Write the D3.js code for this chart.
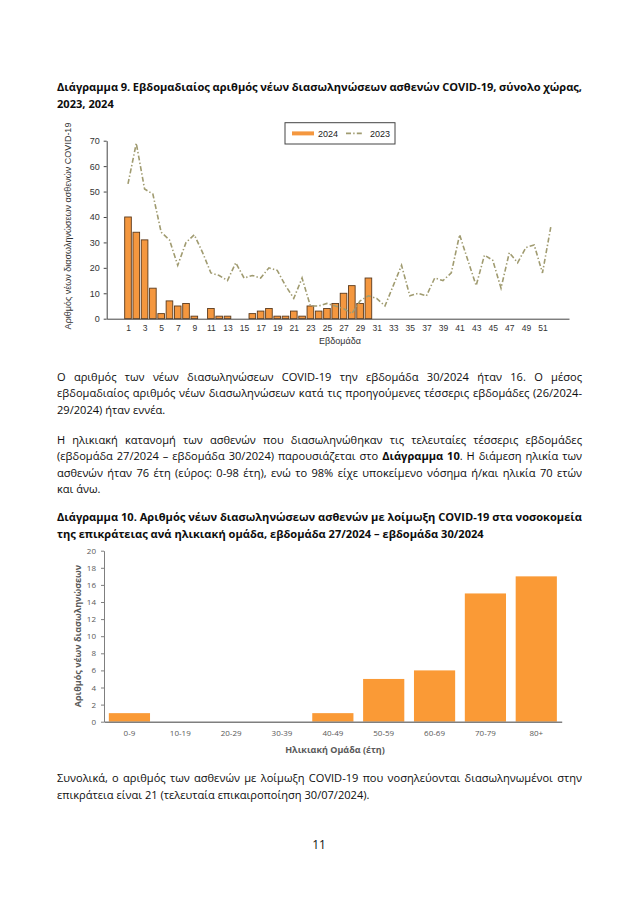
<!DOCTYPE html>
<html>
<head>
<meta charset="utf-8">
<script src="https://cdn.jsdelivr.net/npm/d3@7"></script>
<style>
  body { margin: 0; background: #fff; }
  svg { display: block; }
</style>
</head>
<body>
<svg id="page" width="638" height="902"></svg>
<script>
// ---- chart 9 data: weekly new intubations
const weeks2024 = d3.range(1, 31);
const cases2024 = [40, 34, 31, 12, 2, 7, 5, 6, 1, 0, 4, 1, 1, 0, 0, 2, 3, 4, 1, 1, 3, 1, 5, 3, 4, 6, 10, 13, 6, 16];
const weeks2023 = d3.range(1, 53);
const cases2023 = [53, 69, 51, 49, 34, 31, 21, 30, 33, 26, 18, 17, 15, 22, 16, 17, 16, 20, 19, 13, 8, 16, 5, 5, 6, 5, 4, 2, 7, 9,
                   8, 5, 13, 21, 9, 10, 9, 16, 15, 18, 33, 23, 13, 25, 23, 12, 26, 22, 28, 29, 18, 36];
const weekTicks = d3.range(1, 52, 2);
const yTicks9 = d3.range(0, 71, 10);

// ---- chart 10 data: intubations by age group, weeks 27-30/2024
const ageGroups = ["0-9", "10-19", "20-29", "30-39", "40-49", "50-59", "60-69", "70-79", "80+"];
const ageCounts = [1, 0, 0, 0, 1, 5, 6, 15, 17];
const yTicks10 = d3.range(0, 21, 2);

// ---- page text (** marks bold)
const paragraphs = [
  { y: 91, bold: true, lines: [
    "Διάγραμμα 9. Εβδομαδιαίος αριθμός νέων διασωληνώσεων ασθενών COVID-19, σύνολο χώρας,",
    "2023, 2024"] },
  { y: 380.5, bold: false, lines: [
    "Ο αριθμός των νέων διασωληνώσεων COVID-19 την εβδομάδα 30/2024 ήταν 16. Ο μέσος",
    "εβδομαδιαίος αριθμός νέων διασωληνώσεων κατά τις προηγούμενες τέσσερις εβδομάδες (26/2024-",
    "29/2024) ήταν εννέα."] },
  { y: 443.5, bold: false, lines: [
    "Η ηλικιακή κατανομή των ασθενών που διασωληνώθηκαν τις τελευταίες τέσσερις εβδομάδες",
    "(εβδομάδα 27/2024 – εβδομάδα 30/2024) παρουσιάζεται στο **Διάγραμμα 10**. Η διάμεση ηλικία των",
    "ασθενών ήταν 76 έτη (εύρος: 0-98 έτη), ενώ το 98% είχε υποκείμενο νόσημα ή/και ηλικία 70 ετών",
    "και άνω."] },
  { y: 521, bold: true, lines: [
    "Διάγραμμα 10. Αριθμός νέων διασωληνώσεων ασθενών με λοίμωξη COVID-19 στα νοσοκομεία",
    "της επικράτειας ανά ηλικιακή ομάδα, εβδομάδα 27/2024 – εβδομάδα 30/2024"] },
  { y: 782, bold: false, lines: [
    "Συνολικά, ο αριθμός των ασθενών με λοίμωξη COVID-19 που νοσηλεύονται διασωληνωμένοι στην",
    "επικράτεια είναι 21 (τελευταία επικαιροποίηση 30/07/2024)."] }
];

const svg = d3.select("#page");
const BODY_FONT = "'Open Sans', 'Noto Sans', sans-serif";
const BODY_SIZE = 11.3;
const LINE_H = 16.5;
const LEFT = 57, RIGHT = 582;
const W = RIGHT - LEFT;

function parseLine(str, allBold) {
  const chars = [];
  str.split("**").forEach((p, i) => {
    for (const ch of p) chars.push({ ch: ch, b: allBold || i % 2 === 1 });
  });
  const words = [];
  let cur = [];
  chars.forEach(c => {
    if (c.ch === " ") { if (cur.length) words.push(cur); cur = []; }
    else cur.push(c);
  });
  if (cur.length) words.push(cur);
  return words.map(w => {
    const runs = [];
    w.forEach(c => {
      const last = runs[runs.length - 1];
      if (last && last.b === c.b) last.t += c.ch;
      else runs.push({ t: c.ch, b: c.b });
    });
    return runs;
  });
}

function drawWord(g, runs) {
  const t = g.append("text")
    .attr("font-family", BODY_FONT)
    .attr("font-size", BODY_SIZE)
    .attr("fill", "#0d0d0d");
  runs.forEach(r => t.append("tspan").attr("font-weight", r.b ? 700 : 400).text(r.t));
  return t;
}

// width of a space
const probe = svg.append("text").attr("font-family", BODY_FONT).attr("font-size", BODY_SIZE);
probe.text("n n");
const w1 = probe.node().getComputedTextLength();
probe.text("nn");
const spaceW = w1 - probe.node().getComputedTextLength();
probe.remove();

// first pass: draw words and measure
const lines = [];
paragraphs.forEach(p => {
  p.lines.forEach((ln, i) => {
    const g = svg.append("g");
    const words = parseLine(ln, p.bold).map(runs => {
      const node = drawWord(g, runs);
      return { node: node, w: node.node().getComputedTextLength() };
    });
    lines.push({ g: g, words: words, y: p.y + i * LINE_H, justify: i < p.lines.length - 1 });
  });
});

// horizontal squeeze so that the wide sans fits the narrow original lines
let sx = 1;
lines.filter(l => l.justify).forEach(l => {
  const sum = d3.sum(l.words, d => d.w) + (l.words.length - 1) * spaceW * 0.9;
  sx = Math.min(sx, W / sum);
});

lines.forEach(l => {
  l.g.attr("transform", `translate(${LEFT},${l.y}) scale(${sx},1)`);
  const sum = d3.sum(l.words, d => d.w);
  const gap = l.justify ? (W / sx - sum) / (l.words.length - 1) : spaceW;
  let x = 0;
  l.words.forEach(d => { d.node.attr("x", x); x += d.w + gap; });
});

// page number
svg.append("text")
  .attr("x", 319).attr("y", 849)
  .attr("text-anchor", "middle")
  .attr("font-family", BODY_FONT).attr("font-size", 12)
  .attr("fill", "#111")
  .text("11");

// ================= Chart 9 =================
const R_FONT = "'Liberation Sans', Arial, sans-serif";
const c9 = svg.append("g").attr("font-family", R_FONT);
const x9 = d3.scaleLinear().domain([-1.57, 54.2]).range([106.7, 569]);
const y9 = d3.scaleLinear().domain([0, 70]).range([318.7, 140.7]);
const bw = 8.29 * 0.8;

c9.append("g")
  .selectAll("rect")
  .data(weeks2024)
  .join("rect")
  .attr("x", d => x9(d) - bw / 2)
  .attr("y", (d, i) => y9(cases2024[i]))
  .attr("width", bw)
  .attr("height", (d, i) => y9(0) - y9(cases2024[i]))
  .attr("fill", "#f4973f")
  .attr("stroke", "#5b3a1c")
  .attr("stroke-width", 0.9);

const line2023 = d3.line()
  .x((d, i) => x9(weeks2023[i]))
  .y(d => y9(d));

c9.append("path")
  .datum(cases2023)
  .attr("d", line2023)
  .attr("fill", "none")
  .attr("stroke", "#a09b70")
  .attr("stroke-width", 1.6)
  .attr("stroke-dasharray", "5,2.2,1.4,2.2");

const yAxis9 = c9.append("g")
  .attr("transform", `translate(${x9.range()[0]},0)`)
  .call(d3.axisLeft(y9).tickValues(yTicks9).tickSize(3).tickSizeOuter(0).tickPadding(4));
yAxis9.attr("font-family", R_FONT);
yAxis9.selectAll("text").attr("font-size", 9).attr("fill", "#333");
yAxis9.selectAll("line,path").attr("stroke", "#444");

const xAxis9 = c9.append("g")
  .attr("transform", `translate(0,${y9(0)})`)
  .call(d3.axisBottom(x9).tickValues(weekTicks).tickSize(0).tickSizeOuter(0).tickPadding(6).tickFormat(d3.format("d")));
xAxis9.attr("font-family", R_FONT);
xAxis9.selectAll("text").attr("font-size", 8.5).attr("fill", "#333");
xAxis9.select("path").attr("stroke", "#444");

c9.append("text")
  .attr("x", 340).attr("y", 343.5)
  .attr("text-anchor", "middle")
  .attr("font-size", 9).attr("fill", "#333")
  .text("Εβδομάδα");

c9.append("text")
  .attr("transform", "translate(71,226) rotate(-90)")
  .attr("text-anchor", "middle")
  .attr("font-size", 9).attr("fill", "#333")
  .text("Αριθμός νέων διασωληνώσεων ασθενών COVID-19");

// legend
const lg = c9.append("g");
lg.append("rect")
  .attr("x", 285).attr("y", 122.7).attr("width", 110).attr("height", 21.3)
  .attr("fill", "#fff").attr("stroke", "#444").attr("stroke-width", 1);
lg.append("line")
  .attr("x1", 292).attr("x2", 314).attr("y1", 133.4).attr("y2", 133.4)
  .attr("stroke", "#f4973f").attr("stroke-width", 4);
lg.append("text")
  .attr("x", 318).attr("y", 133.4).attr("dy", "0.35em")
  .attr("font-size", 9).attr("fill", "#222").text("2024");
lg.append("line")
  .attr("x1", 346).attr("x2", 364).attr("y1", 133.4).attr("y2", 133.4)
  .attr("stroke", "#a09b70").attr("stroke-width", 1.6)
  .attr("stroke-dasharray", "5,2.2,1.4,2.2");
lg.append("text")
  .attr("x", 370).attr("y", 133.4).attr("dy", "0.35em")
  .attr("font-size", 9).attr("fill", "#222").text("2023");

// ================= Chart 10 =================
const c10 = svg.append("g").attr("font-family", BODY_FONT);
const x10 = d3.scaleBand().domain(ageGroups).range([104, 561.7]).paddingInner(0.19).paddingOuter(0.095);
const y10 = d3.scaleLinear().domain([0, 20]).range([721.7, 550.7]);

c10.append("g")
  .selectAll("rect")
  .data(ageGroups)
  .join("rect")
  .attr("x", d => x10(d))
  .attr("y", (d, i) => y10(ageCounts[i]))
  .attr("width", x10.bandwidth())
  .attr("height", (d, i) => y10(0) - y10(ageCounts[i]))
  .attr("fill", "#fa9a36");

const yAxis10 = c10.append("g")
  .attr("transform", "translate(104,0)")
  .call(d3.axisLeft(y10).tickValues(yTicks10).tickSize(3).tickSizeOuter(0).tickPadding(5));
yAxis10.attr("font-family", BODY_FONT);
yAxis10.selectAll("text").attr("font-size", 8).attr("fill", "#595959");
yAxis10.selectAll("line,path").attr("stroke", "#7f7f7f");

const xAxis10 = c10.append("g")
  .attr("transform", `translate(0,${y10(0)})`)
  .call(d3.axisBottom(x10).tickSize(0).tickSizeOuter(0).tickPadding(8.5));
xAxis10.attr("font-family", BODY_FONT);
xAxis10.selectAll("text").attr("font-size", 8).attr("fill", "#595959");
xAxis10.select("path").attr("stroke", "#7f7f7f").attr("stroke-width", 1.5);

c10.append("text")
  .attr("x", 335).attr("y", 753)
  .attr("text-anchor", "middle")
  .attr("font-size", 9).attr("font-weight", 700).attr("fill", "#595959")
  .text("Ηλικιακή Ομάδα (έτη)");

c10.append("text")
  .attr("transform", "translate(81,636) rotate(-90)")
  .attr("text-anchor", "middle")
  .attr("font-size", 9).attr("font-weight", 700).attr("fill", "#595959")
  .text("Αριθμός νέων διασωληνώσεων");
</script>
</body>
</html>
